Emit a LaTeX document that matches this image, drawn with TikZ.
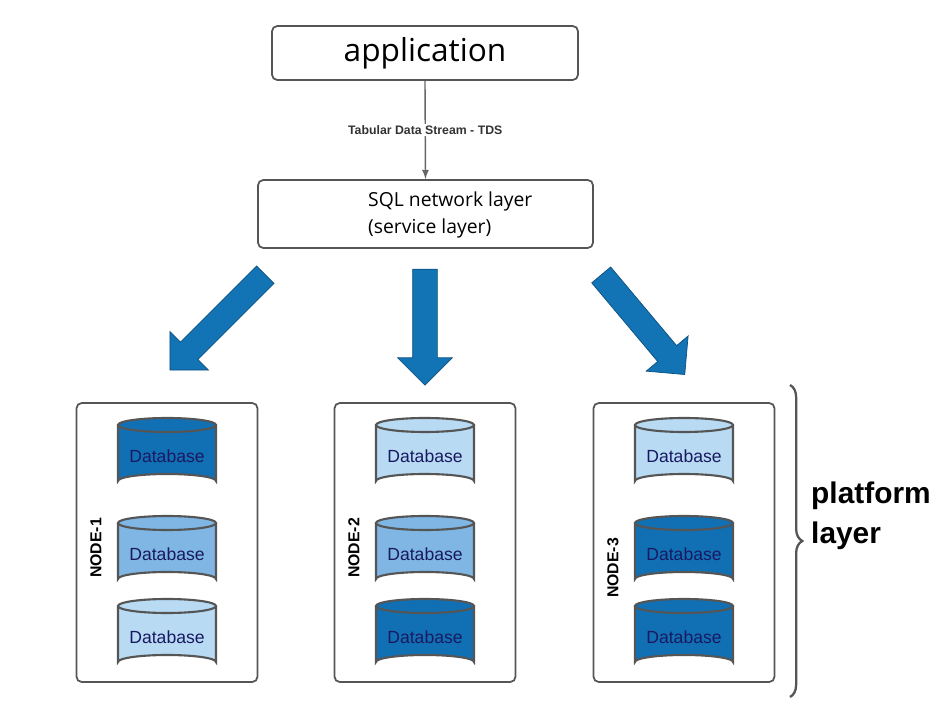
\documentclass[tikz,border=0pt]{standalone}
\usepackage{fontspec}
\setmainfont{Open Sans}
\newfontfamily\lib{Liberation Sans}
\usetikzlibrary{shapes.arrows,decorations.pathreplacing}
\definecolor{dk}{HTML}{1170B4}
\definecolor{md}{HTML}{7FB6E3}
\definecolor{lt}{HTML}{B8DAF2}
\definecolor{arr}{HTML}{1273B5}
\definecolor{bd}{HTML}{555555}
\newcommand\dbcyl[4]{% name, cx, ytop, color
  \fill[#4] (#2-49,#3+7) -- (#2-49,#3+63) arc[start angle=180,end angle=360,x radius=49,y radius=7] -- (#2+49,#3+7) arc[start angle=0,end angle=-180,x radius=49,y radius=7] -- cycle;
  \draw[bd,line width=1.2pt] (#2-49,#3+7) -- (#2-49,#3+63) arc[start angle=180,end angle=360,x radius=49,y radius=7] -- (#2+49,#3+7);
  \draw[bd,line width=1.2pt] (#2,#3+7) ellipse[x radius=49,y radius=7];
  \node[font=\lib\fontsize{10}{12}\selectfont,text=black!65!blue!80!gray] (#1) at (#2,#3+38) {Database};
}
\begin{document}
\begin{tikzpicture}[x=0.02cm,y=-0.02cm,
  box/.style={draw=bd,line width=1pt,rounded corners=3pt},
  fat/.style={single arrow,fill=arr,draw=arr!70!black,inner sep=12*0.02cm,single arrow head extend=15*0.02cm,single arrow tip angle=90}]
\useasboundingbox (0,0) rectangle (947,722);
\node[box,minimum width=306*0.02cm,minimum height=54*0.02cm,font=\fontsize{18}{22}\selectfont] (app) at (425,53) {application};
\node[box,minimum width=335*0.02cm,minimum height=68*0.02cm] (sql) at (425.5,214) {};
\node[anchor=west,align=left,font=\fontsize{11}{15}\selectfont] (sqlt) at (362,215) {SQL network layer\\(service layer)};
\draw[-latex,gray!80!black,line width=0.8pt] (app.south) -- node[fill=white,font=\lib\bfseries\fontsize{7}{8}\selectfont,text=black!80,inner sep=1pt] (tds) {Tabular Data Stream - TDS} (sql.north);
\node[fat,minimum height=135*0.02cm,rotate=-135] (a1) at (222,318) {};
\node[fat,minimum height=116*0.02cm,rotate=-90] (a2) at (425,321) {};
\node[fat,minimum height=130*0.02cm,rotate=-50] (a3) at (639,320) {};
\foreach \n/\cx in {1/167,2/425,3/684}{
  \node[box,minimum width=181*0.02cm,minimum height=279*0.02cm] (n\n) at (\cx,542.5) {};
}
\node[rotate=90,font=\lib\bfseries\fontsize{9}{10}\selectfont] (l1) at (96,548) {NODE-1};
\node[rotate=90,font=\lib\bfseries\fontsize{9}{10}\selectfont] (l2) at (354,548) {NODE-2};
\node[rotate=90,font=\lib\bfseries\fontsize{9}{10}\selectfont] (l3) at (613,568) {NODE-3};
\dbcyl{d11}{167}{418}{dk}\dbcyl{d12}{167}{516}{md}\dbcyl{d13}{167}{599}{lt}
\dbcyl{d21}{425}{418}{lt}\dbcyl{d22}{425}{516}{md}\dbcyl{d23}{425}{599}{dk}
\dbcyl{d31}{684}{418}{lt}\dbcyl{d32}{684}{516}{dk}\dbcyl{d33}{684}{599}{dk}
\coordinate (bt) at (790,385); \coordinate (bb) at (790,697);
\draw[bd,line width=1.3pt,decorate,decoration={brace,amplitude=7pt}] (bt) -- (bb);
\node[anchor=west,align=left,font=\lib\bfseries\fontsize{17}{23}\selectfont] (pl) at (805,516) {platform\\layer};
\end{tikzpicture}
\end{document}
